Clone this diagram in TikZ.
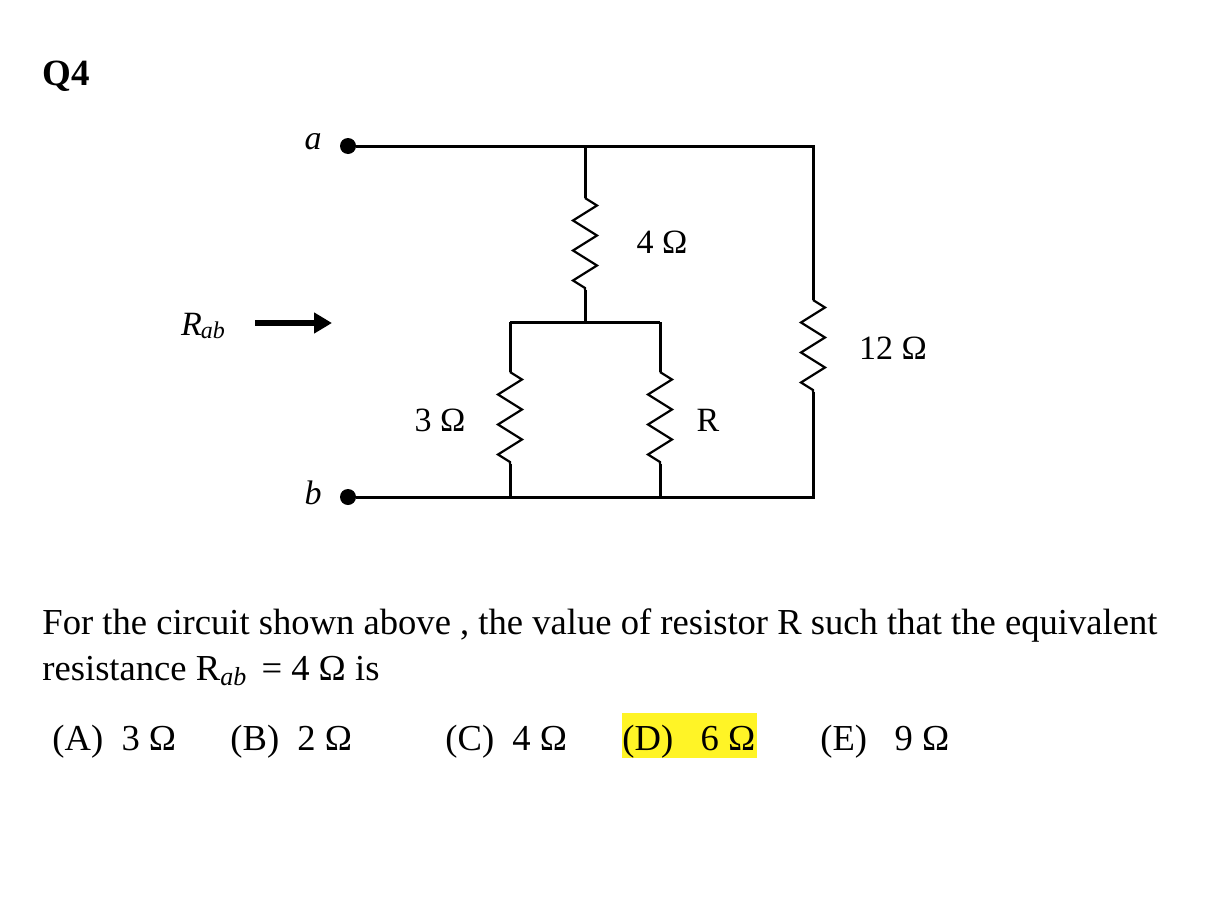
\documentclass[tikz,border=0pt]{standalone}
\usepackage{fontspec}
\setmainfont{Liberation Serif}
\usetikzlibrary{decorations.pathmorphing,arrows.meta}
\begin{document}
\begin{tikzpicture}[x=0.5pt,y=-0.5pt,
  w/.style={line width=1.5pt},
  res/.style={line width=1.1pt,decorate,decoration={zigzag,segment length=15pt,amplitude=6pt}},
  lbl/.style={font=\fontsize{17}{20}\selectfont,inner sep=0pt},
  txt/.style={anchor=base west,inner sep=0pt,font=\fontsize{18.3}{22}\selectfont},
  dot/.style={circle,fill=black,inner sep=0pt,minimum size=8pt}]
\useasboundingbox (0,0) rectangle (1220,910);
\node[anchor=base west,font=\fontsize{18.5}{22}\selectfont\bfseries,inner sep=0pt] (q) at (42,85) {Q4};
\node[dot] (a) at (348,146) {};
\node[dot] (b) at (348,497) {};
\node[lbl,font=\fontsize{17}{20}\selectfont\itshape] (la) at (313,142) {a};
\node[lbl,font=\fontsize{17}{20}\selectfont\itshape] (lb) at (313,493) {b};
\coordinate (tm) at (585,146);
\coordinate (tr) at (813,146);
\coordinate (br) at (813,497);
\coordinate (b1) at (510,497);
\coordinate (b2) at (660,497);
\coordinate (bar1) at (510,322);
\coordinate (barm) at (585,322);
\coordinate (bar2) at (660,322);
\coordinate (r1a) at (585,198);
\coordinate (r1b) at (585,290);
\coordinate (r2a) at (510,372);
\coordinate (r2b) at (510,464);
\coordinate (r3a) at (660,372);
\coordinate (r3b) at (660,464);
\coordinate (r4a) at (813,300);
\coordinate (r4b) at (813,392);
\draw[w] (a) -- (tr) -- (r4a);
\draw[res] (r4a) -- (r4b);
\draw[w] (r4b) -- (br) -- (b);
\draw[w] (tm) -- (r1a);
\draw[res] (r1a) -- (r1b);
\draw[w] (r1b) -- (barm);
\draw[w] (bar1) -- (bar2);
\draw[w] (bar1) -- (r2a);
\draw[res] (r2a) -- (r2b);
\draw[w] (r2b) -- (b1);
\draw[w] (bar2) -- (r3a);
\draw[res] (r3a) -- (r3b);
\draw[w] (r3b) -- (b2);
\node[lbl] (l4) at (662,242) {4 Ω};
\node[lbl] (l12) at (893,348) {12 Ω};
\node[lbl] (l3) at (440,420) {3 Ω};
\node[lbl] (lR) at (708,420) {R};
\node[lbl] (rab) at (203,326) {\fontsize{17}{20}\selectfont\itshape R\kern-0.5pt\raisebox{-0.25ex}{\fontsize{12}{14}\selectfont ab}};
\coordinate (ar1) at (255,323);
\coordinate (ar2) at (332,323);
\draw[line width=3pt,-{Triangle[length=9pt,width=10pt]}] (ar1) -- (ar2);
\node[txt] (t1) at (42,634) {For the circuit shown above , the value of resistor R such that the equivalent};
\node[txt] (t2) at (42,680) {resistance R\raisebox{-0.3ex}{\fontsize{13}{15}\selectfont\itshape ab} \,= 4 Ω is};
\fill[yellow!85!white] (622,713) rectangle (757,758);
\node[txt] (oa) at (52,750) {(A)\ \ 3 Ω};
\node[txt] (ob) at (230,750) {(B)\ \ 2 Ω};
\node[txt] (oc) at (445,750) {(C)\ \ 4 Ω};
\node[txt] (od) at (622,750) {(D)\ \ \ 6 Ω};
\node[txt] (oe) at (820,750) {(E)\ \ \ 9 Ω};
\end{tikzpicture}
\end{document}
